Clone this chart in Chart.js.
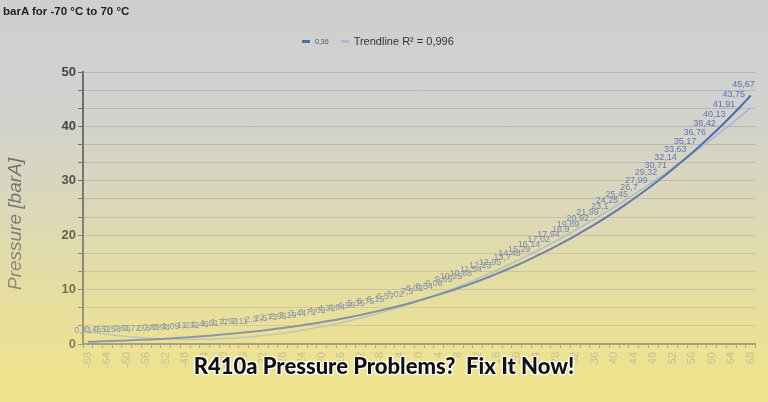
<!DOCTYPE html>
<html>
<head>
<meta charset="utf-8">
<script src="https://cdn.jsdelivr.net/npm/chart.js@4"></script>
<style>
 html, body { margin: 0; padding: 0; }
 body { width: 768px; height: 402px; overflow: hidden; font-family: "Liberation Sans", Arial, sans-serif;
   background: linear-gradient(to bottom, #cfcfcf 0%, #d1d1cf 25%, #d8d6c2 50%, #e3dca6 75%, #efe48c 100%); }
 #wrap { position: relative; width: 768px; height: 402px; }
 #chart { position: absolute; left: 0; top: 0; }
 #title { position: absolute; left: 3px; top: 5px; font-size: 11.5px; font-weight: bold; color: #222; }
 #legend { position: absolute; left: 302px; top: 34px; font-size: 11px; color: #333; white-space: nowrap; }
 #legend .mk { display: inline-block; width: 8px; height: 3px; vertical-align: middle; margin-right: 5px; }
 #legend .small { font-size: 7px; color: #555; margin-right: 12px; vertical-align: middle; }
 #legend .big { vertical-align: middle; }
 #ytitle { position: absolute; left: 15px; top: 224px; transform: translate(-50%, -50%) rotate(-90deg); font-size: 19px; font-style: italic; color: #6a6a6a; white-space: nowrap; }
 #fade { position: absolute; left: 0; top: 0; width: 768px; height: 402px;
   background: linear-gradient(to bottom, rgba(240,228,140,0) 30%, rgba(240,228,140,0.15) 55%, rgba(240,228,140,0.5) 100%); }
 #banner { position: absolute; left: 0; width: 768px; top: 352px; text-align: center; font-family: Lato, "Open Sans", sans-serif; font-weight: 900; font-size: 22px; color: #111;
   text-shadow: 1px 1px 0 #fff, -1px -1px 0 #fff, 1px -1px 0 #fff, -1px 1px 0 #fff, 0 0 3px #fff; white-space: pre; }
</style>
</head>
<body>
<div id="wrap">
 <canvas id="chart" width="768" height="402"></canvas>
 <div id="ytitle">Pressure [barA]</div>
 <div id="fade"></div>
 <div id="title">barA for -70 °C to 70 °C</div>
 <div id="legend"><span class="mk" style="background:#4a6cb0"></span><span class="small">0,36</span><span class="mk" style="background:#aab8d3"></span><span class="big">Trendline R² = 0,996</span></div>
 <div id="banner">R410a Pressure Problems?  Fix It Now!</div>
</div>
<script>
// temperatures (°C) on the x axis
const temps = ['-68','-66','-64','-62','-60','-58','-56','-54','-52','-50','-48','-46','-44','-42','-40','-38','-36','-34','-32','-30','-28','-26','-24','-22','-20','-18','-16','-14','-12','-10','-8','-6','-4','-2','0','2','4','6','8','10','12','14','16','18','20','22','24','26','28','30','32','34','36','38','40','42','44','46','48','50','52','54','56','58','60','62','64','66','68'];

// saturation pressure, barA
const pressure = [0.41,0.46,0.52,0.58,0.65,0.72,0.80,0.89,0.98,1.09,1.20,1.32,1.46,1.61,1.77,1.93,2.11,2.30,2.50,2.73,2.95,3.19,3.44,3.72,4.02,4.32,4.64,4.98,5.35,5.75,6.15,6.57,7.02,7.50,8.02,8.54,9.08,9.65,10.25,10.88,11.54,12.23,12.95,13.70,14.48,15.29,16.14,17.02,17.94,18.90,19.89,20.92,21.99,23.10,24.25,25.45,26.70,27.99,29.32,30.71,32.14,33.63,35.17,36.76,38.42,40.13,41.91,43.75,45.67];

// trendline
const trend = [2.27,2.01,1.78,1.57,1.39,1.23,1.10,1.00,0.92,0.87,0.84,0.84,0.86,0.92,0.99,1.09,1.22,1.38,1.56,1.76,1.99,2.25,2.53,2.84,3.17,3.53,3.92,4.33,4.77,5.23,5.72,6.23,6.77,7.34,7.93,8.55,9.19,9.86,10.56,11.28,12.03,12.80,13.60,14.42,15.27,16.15,17.05,17.97,18.93,19.90,20.91,21.94,22.99,24.08,25.18,26.32,27.48,28.66,29.87,31.11,32.37,33.66,34.97,36.31,37.68,39.07,40.48,41.93,43.40];

// y gridlines (minor every 3,33) and the labelled ones
const yGrid = [0, 3.333, 6.667, 10, 13.333, 16.667, 20, 23.333, 26.667, 30, 33.333, 36.667, 40, 43.333, 46.667, 50];
const yLabels = [0, 10, 20, 30, 40, 50];

// value labels over each point
const pointLabels = {
 id: 'pointLabels',
 afterDatasetsDraw(chart) {
 const meta = chart.getDatasetMeta(0);
 const ctx = chart.ctx;
 ctx.save();
 ctx.font = '9px "Liberation Sans", Arial, sans-serif';
 ctx.fillStyle = '#5b73b5';
 ctx.textAlign = 'right';
 ctx.textBaseline = 'bottom';
 meta.data.forEach((pt, i) => {
 ctx.fillText(String(pressure[i]).replace('.', ','), pt.x + 4, pt.y - 7);
 });
 ctx.restore();
 }
};

new Chart(document.getElementById('chart'), {
 type: 'line',
 data: {
 labels: temps,
 datasets: [
 { label: '0,36', data: pressure, borderColor: '#4a6cb0', borderWidth: 2, pointRadius: 0, tension: 0.4, fill: false },
 { label: 'Trendline R² = 0,996', data: trend, borderColor: '#a6b5d2', borderWidth: 1.5, pointRadius: 0, tension: 0.4, fill: false }
 ]
 },
 options: {
 responsive: false,
 animation: false,
 layout: { padding: { top: 72, right: 11, left: 0, bottom: 0 } },
 plugins: { legend: { display: false }, title: { display: false }, tooltip: { enabled: false } },
 scales: {
 x: {
 offset: true,
 grid: { display: true, drawOnChartArea: false, drawTicks: true, tickLength: 4, offset: true, tickColor: '#888' },
 border: { display: true, color: '#777', width: 2 },
 ticks: {
 autoSkip: false, minRotation: 90, maxRotation: 90, padding: 4,
 color: '#aaa698', font: { size: 11 },
 callback: (v, i) => (i % 2 === 0 ? temps[i] : '')
 },
 afterFit: (s) => { s.height = 58; }
 },
 y: {
 min: 0, max: 50,
 afterBuildTicks: (axis) => { axis.ticks = yGrid.map(v => ({ value: v })); },
 ticks: {
 autoSkip: false, padding: 2,
 color: '#444', font: { size: 13, weight: 'bold' },
 callback: (v) => {
 const hit = yLabels.find(l => Math.abs(l - v) < 0.01);
 return hit === undefined ? '' : String(hit);
 }
 },
 grid: { color: 'rgba(160,160,160,0.5)', tickLength: 5, tickColor: '#707070' },
 border: { color: '#6e6e6e', width: 2 },
 afterFit: (s) => { s.width = 83; }
 }
 }
 },
 plugins: [pointLabels]
});
</script>
</body>
</html>
